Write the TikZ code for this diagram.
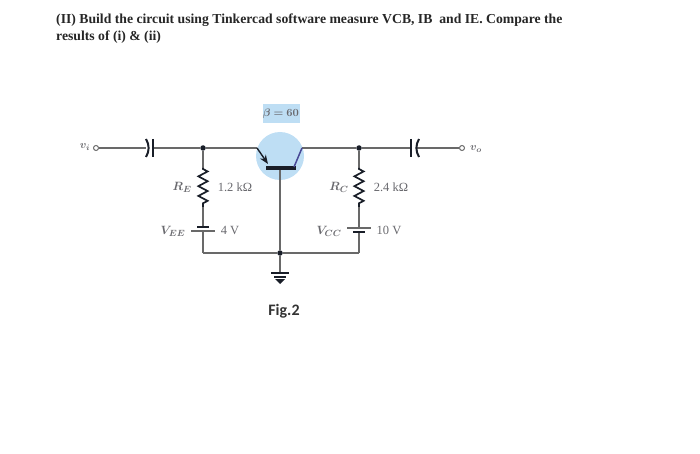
\documentclass[tikz,border=0pt]{standalone}
\usepackage{fontspec}
\usepackage{amsmath}
\usepackage{bm}
\setmainfont{Liberation Serif}
\newfontfamily\figfont{Carlito}
\usetikzlibrary{arrows.meta, calc, positioning, decorations.pathmorphing}
\definecolor{wiregray}{RGB}{105,105,105}
\definecolor{labelgray}{RGB}{105,105,110}
\definecolor{hiliteblue}{RGB}{190,222,244}
\definecolor{barblack}{RGB}{25,30,40}
\tikzset{
  wire/.style={draw=wiregray, line width=1.2pt},
  plate/.style={draw=barblack, line width=2pt},
  zigres/.style={draw=barblack, line width=1.7pt, decorate,
    decoration={zigzag, amplitude=4.6pt, segment length=9.8pt, pre length=1pt, post length=1pt}},
  dotj/.style={circle, fill=barblack, inner sep=0pt, minimum size=5.5pt},
  termo/.style={circle, draw=wiregray, fill=white, line width=1pt, inner sep=0pt, minimum size=5pt},
  lab/.style={text=labelgray, inner sep=0pt, font=\fontsize{12.5}{14}\selectfont},
  smalllab/.style={text=labelgray, inner sep=0pt, font=\fontsize{11}{12}\selectfont},
  headline/.style={text=black!85, inner sep=0pt, anchor=base west, font=\fontsize{13.7}{15}\selectfont\bfseries},
}
\begin{document}
\begin{tikzpicture}[x=1pt, y=-1pt, >=Stealth]
  \useasboundingbox (0,0) rectangle (700,454);
  % Heading
  \node[headline] (headone) at (56,24) {(II) Build the circuit using Tinkercad software measure VCB, IB\ \ and IE. Compare the};
  \node[headline] (headtwo) at (56,41) {results of (i) \& (ii)};

  % Transistor highlight
  \fill[hiliteblue] (280,156) circle (24);
  \node[fill=hiliteblue, minimum width=37pt, minimum height=19pt, inner sep=0pt] (betalab) at (281,114) {};
  \node[smalllab] (betatxt) at (281,114) {$\bm{\beta = 60}$};

  % Main points
  \node[termo] (vin) at (96,148) {};
  \node[dotj] (juncE) at (203,148) {};
  \node[dotj] (juncC) at (359,148) {};
  \node[termo] (vout) at (462,148) {};
  \node[dotj] (juncG) at (280,253) {};
  \coordinate (emit) at (257,148);
  \coordinate (coll) at (302,148);
  \coordinate (emitarrow) at (268,164);
  \coordinate (collbar) at (294,167);
  \coordinate (basebar) at (280,168);
  \coordinate (capAl) at (146,148);
  \coordinate (capAr) at (152,148);
  \coordinate (capBl) at (411,148);
  \coordinate (capBr) at (417,148);
  \coordinate (cornerE) at (203,253);
  \coordinate (cornerC) at (359,253);
  \coordinate (gndtop) at (280,273);

  % Wires
  \draw[wire] (vin) -- (capAl);
  \draw[wire] (capAr) -- (juncE) -- (emit);
  \draw[wire] (coll) -- (juncC) -- (capBl);
  \draw[wire] (capBr) -- (vout);
  \draw[wire] (basebar) -- (juncG) -- (gndtop);
  \draw[wire] (cornerE) -- (juncG) -- (cornerC);

  % Capacitors
  \draw[plate] (146,139) .. controls (149.5,145) and (149.5,151) .. (146,157);
  \draw[plate] (152.5,139) -- (152.5,157);
  \draw[plate] (411,139) -- (411,157);
  \draw[plate] (419,139) .. controls (415.5,145) and (415.5,151) .. (419,157);

  % Transistor
  \draw[barblack, line width=3.2pt] (266,168) -- (296,168);
  \draw[barblack, line width=1.4pt, -{Stealth[length=9pt,width=7pt]}] (emit) -- (emitarrow);
  \draw[wiregray!70!blue, line width=1.5pt] (collbar) -- (coll);

  % Left branch
  \coordinate (reTop) at (203,168);
  \coordinate (reBot) at (203,207);
  \draw[wire] (juncE) -- (reTop);
  \draw[zigres] (reTop) -- (reBot);
  \draw[wire] (reBot) -- (203,227);
  \draw[wire] (203,231) -- (cornerE);
  \draw[barblack, line width=2.4pt] (197,227) -- (209,227);
  \draw[wiregray, line width=1.2pt] (191,231) -- (215,231);

  % Right branch
  \coordinate (rcTop) at (359,168);
  \coordinate (rcBot) at (359,207);
  \draw[wire] (juncC) -- (rcTop);
  \draw[zigres] (rcTop) -- (rcBot);
  \draw[wire] (rcBot) -- (359,228);
  \draw[wire] (359,232) -- (cornerC);
  \draw[wiregray, line width=1.2pt] (347,228) -- (371,228);
  \draw[barblack, line width=2.4pt] (353,232) -- (365,232);

  % Ground
  \draw[barblack, line width=1.8pt] (271,273) -- (289,273);
  \draw[barblack, line width=1.6pt] (274,277) -- (286,277);
  \fill[barblack] (275,279) -- (285,279) -- (280,284) -- cycle;

  % Labels
  \node[smalllab] (vilab) at (85,147) {$\bm{v_i}$};
  \node[smalllab] (volab) at (476,149) {$\bm{v_o}$};
  \node[lab] (relab) at (182,187) {$\bm{R_E}$};
  \node[lab] (reval) at (235,187) {1.2 kΩ};
  \node[lab] (vee) at (173,231) {$\bm{V_{EE}}$};
  \node[lab] (veeval) at (230,230) {4 V};
  \node[lab] (rclab) at (339,187) {$\bm{R_C}$};
  \node[lab] (rcval) at (391,187) {2.4 kΩ};
  \node[lab] (vcc) at (329,231) {$\bm{V_{CC}}$};
  \node[lab] (vccval) at (389,230) {10 V};
  \node[text=black!80, inner sep=0pt, font=\figfont\fontsize{16}{18}\selectfont\bfseries] (figlab) at (284,311) {Fig.2};
\end{tikzpicture}
\end{document}
